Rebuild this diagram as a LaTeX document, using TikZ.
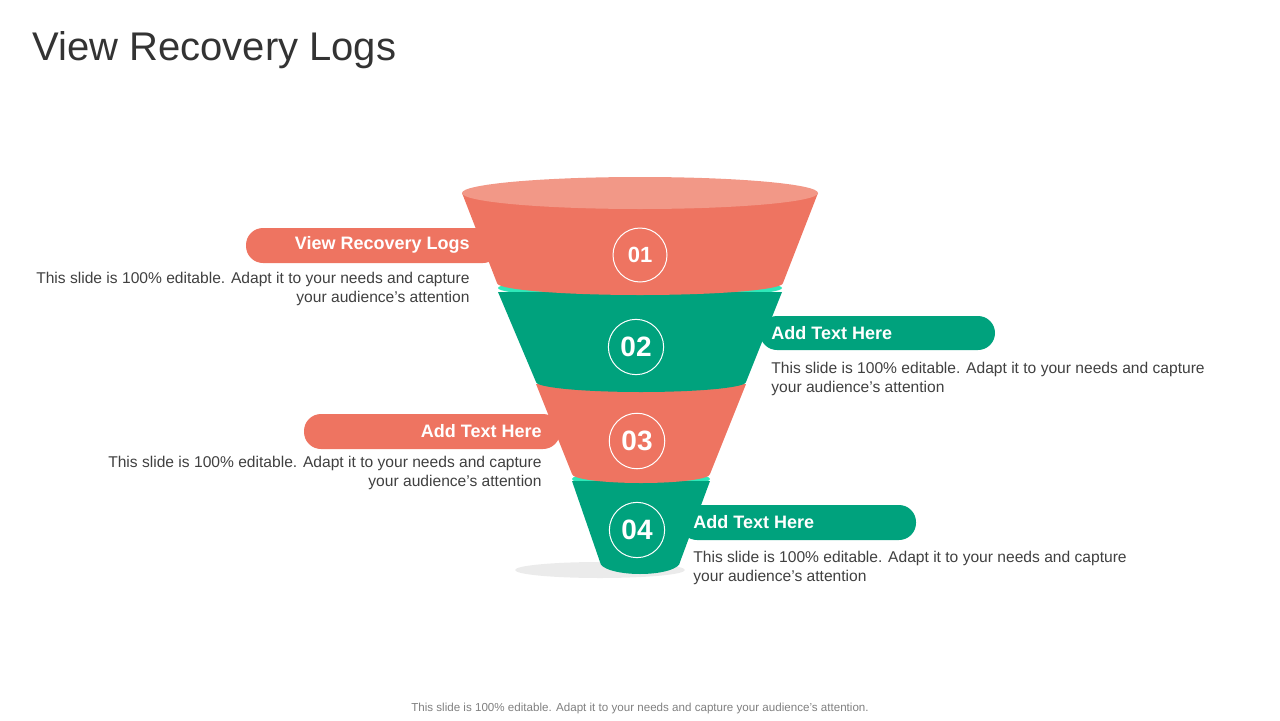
\documentclass[tikz,border=0pt]{standalone}
\usepackage{fontspec}
\setmainfont{Liberation Sans}
\definecolor{salmon}{HTML}{EE7461}
\definecolor{salmonlt}{HTML}{F29887}
\definecolor{teal}{HTML}{00A27D}
\definecolor{teallt}{HTML}{2EE8B9}
\definecolor{txt}{HTML}{404040}
\tikzset{
  pill/.style={rounded corners=8.5pt},
  head/.style={text=white,font=\fontsize{9}{10}\selectfont\bfseries},
  desc/.style={text=txt,font=\fontsize{7.8}{9.5}\selectfont,inner sep=0pt},
  num/.style={circle,draw=white,line width=0.5pt,minimum size=27pt,text=white,font=\fontsize{14}{14}\selectfont\bfseries}
}
\begin{document}
\begin{tikzpicture}[x=0.5pt,y=0.5pt]
\useasboundingbox (0,0) rectangle (1280,720);
\node[anchor=west,inner sep=0pt,font=\fontsize{20}{20}\selectfont,text=txt!80!black] (title) at (32,670) {View Recovery Logs};
\node[font=\fontsize{5.8}{6}\selectfont,text=gray] (foot) at (640,12) {This slide is 100\% editable. Adapt it to your needs and capture your audience's attention.};
% bars
\fill[salmon,pill] (246,457) rectangle (500,492);
\fill[teal,pill] (760,370) rectangle (995,404);
\fill[salmon,pill] (304,271) rectangle (560,306);
\fill[teal,pill] (680,180) rectangle (916,215);
% shadow
\fill[black!8] (600,150) ellipse[x radius=85,y radius=8];
% funnel, bottom up
\fill[teallt] (641,241) ellipse[x radius=69,y radius=8];
\fill[teal] (572,239) -- (600,158) arc[start angle=180,end angle=360,x radius=40,y radius=12] -- (710,239) -- cycle;
\fill[salmonlt] (641,340) ellipse[x radius=105,y radius=9];
\fill[salmon] (536,336) -- (572,246) arc[start angle=180,end angle=360,x radius=69,y radius=9] -- (746,336) -- cycle;
\fill[teallt] (640,432) ellipse[x radius=142,y radius=10];
\fill[teal] (498,428) -- (536,338) arc[start angle=180,end angle=360,x radius=105,y radius=10] -- (782,428) -- cycle;
\fill[salmon] (462,527) -- (497,437) arc[start angle=180,end angle=360,x radius=143,y radius=12] -- (818,527) -- cycle;
\fill[salmonlt] (640,527) ellipse[x radius=178,y radius=16];
% numbers
\node[num,font=\fontsize{11}{11}\selectfont\bfseries] (n1) at (640,465) {01};
\node[num] (n2) at (636,373) {02};
\node[num] (n3) at (637,279) {03};
\node[num] (n4) at (637,190) {04};
% labels
\node[head,anchor=east,inner sep=0pt] (h1) at (470,475) {View Recovery Logs};
\node[desc,anchor=north east,align=right] (d1) at (470,448) {This slide is 100\% editable. Adapt it to your needs and capture\\your audience's attention};
\node[head,anchor=west,inner sep=0pt] (h2) at (771,387) {Add Text Here};
\node[desc,anchor=north west,align=left] (d2) at (771,358) {This slide is 100\% editable. Adapt it to your needs and capture\\your audience's attention};
\node[head,anchor=east,inner sep=0pt] (h3) at (542,289) {Add Text Here};
\node[desc,anchor=north east,align=right] (d3) at (542,264) {This slide is 100\% editable. Adapt it to your needs and capture\\your audience's attention};
\node[head,anchor=west,inner sep=0pt] (h4) at (693,198) {Add Text Here};
\node[desc,anchor=north west,align=left] (d4) at (693,169) {This slide is 100\% editable. Adapt it to your needs and capture\\your audience's attention};
\end{tikzpicture}
\end{document}
